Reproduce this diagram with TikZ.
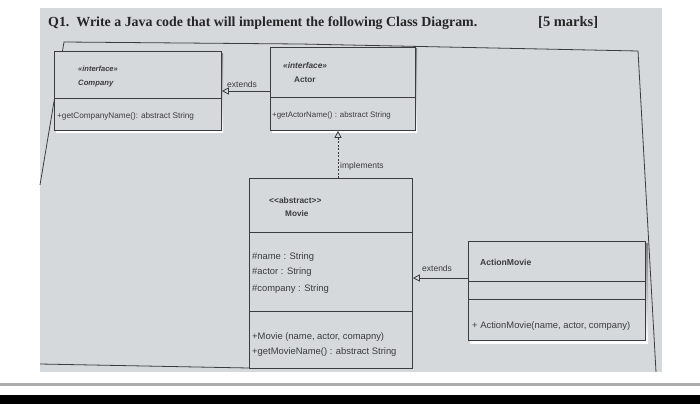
\documentclass[tikz,border=0pt]{standalone}
\usepackage{fontspec}
\setmainfont{Liberation Serif}
\setsansfont{Liberation Sans}
\usetikzlibrary{arrows.meta,calc}
\definecolor{paper}{HTML}{D6D9DC}
\definecolor{ink}{HTML}{3A3C3F}
\definecolor{shade}{HTML}{9A9DA1}
\begin{document}
\begin{tikzpicture}[x=1pt,y=-1pt,
  umlbox/.style={draw=ink, line width=0.8pt, rectangle, inner sep=0pt, anchor=north west, fill=paper},
  btxt/.style={anchor=base west, inner sep=0pt, text=ink, font=\sffamily\fontsize{8.2}{10}\selectfont},
  bigtxt/.style={anchor=base west, inner sep=0pt, text=ink, font=\sffamily\fontsize{9.4}{11}\selectfont},
  lbl/.style={anchor=base west, inner sep=0pt, text=ink, font=\sffamily\fontsize{8.5}{10}\selectfont},
  divider/.style={draw=ink, line width=0.8pt},
  inherit/.style={draw=ink, line width=0.8pt, -{Triangle[open,length=7pt,width=7pt,fill=paper]}},
  realize/.style={inherit, dashed, dash pattern=on 2pt off 1.5pt}
]
\useasboundingbox (0,0) rectangle (700,404);
\fill[white] (0,0) rectangle (700,404);
\fill[paper] (40,8) rectangle (662,372);
% bottom rules
\fill[gray!65] (0,382.5) rectangle (700,385.5);
\fill[black] (0,395) rectangle (700,404);
% title
\node[anchor=base west, inner sep=0pt, text=black!85, font=\bfseries\fontsize{13.9}{16}\selectfont] (title) at (48,27) {Q1.\enspace Write a Java code that will implement the following Class Diagram.};
\node[anchor=base west, inner sep=0pt, text=black!85, font=\bfseries\fontsize{14.5}{16}\selectfont] (marks) at (538,27) {[5 marks]};
% outer frame
\draw[ink, line width=0.8pt] (40,185) -- (64,42) -- (300,44) -- (638,51) -- (656,372);
\draw[ink, line width=0.8pt] (40,364) -- (249,368);
% shadows
\fill[shade] (56,53) rectangle (223,132);
\fill[shade] (272,49) rectangle (417,132);
\fill[shade] (470,243) rectangle (648,343);
% boxes
\node[umlbox, minimum width=167pt, minimum height=79pt] (company) at (54,51) {};
\node[umlbox, minimum width=145pt, minimum height=83pt] (actor) at (270,47) {};
\node[umlbox, minimum width=163pt, minimum height=190pt] (movie) at (249,178) {};
\node[umlbox, minimum width=177pt, minimum height=99pt] (action) at (468,241) {};
% dividers
\draw[divider] (company.west |- 0,98) -- (company.east |- 0,98);
\draw[divider] (actor.west |- 0,97) -- (actor.east |- 0,97);
\draw[divider] (movie.west |- 0,232) -- (movie.east |- 0,232);
\draw[divider] (movie.west |- 0,311) -- (movie.east |- 0,311);
\draw[divider] (action.west |- 0,281) -- (action.east |- 0,281);
\draw[divider] (action.west |- 0,299) -- (action.east |- 0,299);
% texts Company
\node[btxt, font=\sffamily\bfseries\itshape\fontsize{7.5}{9}\selectfont] (cst) at (78,71) {«interface»};
\node[btxt, font=\sffamily\bfseries\itshape\fontsize{7.7}{9}\selectfont] (cname) at (78,85) {Company};
\node[btxt] (cm) at (57,118) {+getCompanyName(): abstract String};
% texts Actor
\node[btxt, font=\sffamily\bfseries\itshape\fontsize{8.3}{10}\selectfont] (ast) at (283,68) {«interface»};
\node[btxt, font=\sffamily\bfseries\fontsize{8.2}{10}\selectfont] (aname) at (294,82) {Actor};
\node[btxt, font=\sffamily\fontsize{7.9}{10}\selectfont] (am) at (272,117) {+getActorName() : abstract String};
% texts Movie
\node[bigtxt, font=\sffamily\bfseries\fontsize{8.4}{10}\selectfont] (mst) at (269,203) {{<}{<}abstract{>}{>}};
\node[bigtxt, font=\sffamily\bfseries\fontsize{8.2}{10}\selectfont] (mname) at (285,216) {Movie};
\node[bigtxt] (ma1) at (252,259) {\#name : String};
\node[bigtxt] (ma2) at (252,274) {\#actor : String};
\node[bigtxt] (ma3) at (252,291) {\#company : String};
\node[bigtxt] (mm1) at (252,339) {+Movie (name, actor, comapny)};
\node[bigtxt] (mm2) at (252,354) {+getMovieName() : abstract String};
% texts ActionMovie
\node[bigtxt, font=\sffamily\bfseries\fontsize{8.6}{10}\selectfont] (amname) at (480,265) {ActionMovie};
\node[bigtxt] (amm) at (472,328) {+ ActionMovie(name, actor, company)};
% connectors
\coordinate (actorjoin) at (actor.west |- 0,91);
\draw[inherit] (actorjoin) -- (actorjoin -| company.east);
\node[lbl] (ext1) at (227,87) {extends};
\coordinate (moviejoin) at (338,0 |- movie.north);
\draw[realize] (moviejoin) -- (moviejoin |- actor.south);
\node[lbl] (impl) at (340,168) {implements};
\coordinate (actionjoin) at (action.west |- 0,278);
\draw[inherit] (actionjoin) -- (actionjoin -| movie.east);
\node[lbl] (ext2) at (422,271) {extends};
\end{tikzpicture}
\end{document}
